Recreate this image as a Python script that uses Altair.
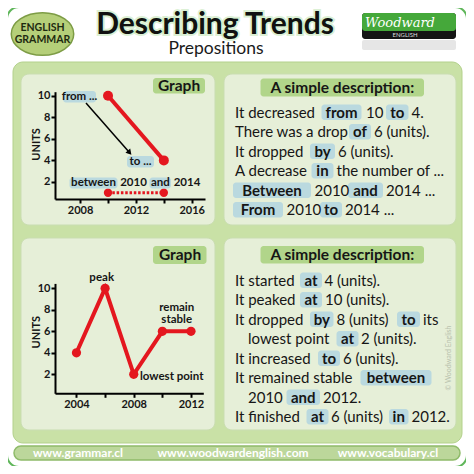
import altair as alt
import pandas as pd

# ---- data -------------------------------------------------------------
g1_years = [2010, 2014]
g1_units = [10, 4]
g1_span_years = [2010, 2014]
g1_span_units = [1, 1]
g1_ticks = [2008, 2010, 2012, 2014, 2016]

g2_years = [2004, 2006, 2008, 2010, 2012]
g2_units = [4, 10, 2, 6, 6]
g2_ticks = [2004, 2006, 2008, 2010, 2012]

unit_ticks = [2, 4, 6, 8, 10]

title = "Describing Trends"
subtitle = "Prepositions"
badge = ["ENGLISH", "GRAMMAR"]
footer = ["www.grammar.cl", "www.woodwardenglish.com", "www.vocabulary.cl"]
header = "A simple description:"
graph_label = "Graph"

# (text, is preposition)
desc_top = [
    [("It decreased", 0), ("from", 1), ("10", 0), ("to", 1), ("4.", 0)],
    [("There was a drop", 0), ("of", 1), ("6 (units).", 0)],
    [("It dropped", 0), ("by", 1), ("6 (units).", 0)],
    [("A decrease", 0), ("in", 1), ("the number of ...", 0)],
    [("Between", 1), ("2010", 0), ("and", 1), ("2014 ...", 0)],
    [("From", 1), ("2010", 0), ("to", 1), ("2014 ...", 0)],
]
desc_bottom = [
    [("It started", 0), ("at", 1), ("4 (units).", 0)],
    [("It peaked", 0), ("at", 1), ("10 (units).", 0)],
    [("It dropped", 0), ("by", 1), ("8 (units)", 0), ("to", 1), ("its", 0)],
    [("lowest point", 0), ("at", 1), ("2 (units).", 0)],
    [("It increased", 0), ("to", 1), ("6 (units).", 0)],
    [("It remained stable", 0), ("between", 1)],
    [("2010", 0), ("and", 1), ("2012.", 0)],
    [("It finished", 0), ("at", 1), ("6 (units)", 0), ("in", 1), ("2012.", 0)],
]

g1_notes = [("from ...", 1), ("to ...", 1), ("between", 1), ("2010", 0), ("and", 1), ("2014", 0)]
g2_notes = ["peak", "remain", "stable", "lowest point"]

# ---- layout (page pixels) --------------------------------------------
top_x = [
    [235, (321.5, 361.5), 366, (386, 408.5), 411.5],
    [235, (349, 371), 374],
    [235, (310, 335), 338],
    [235, (311.5, 333.5), 336.5],
    [(233, 311), 314.5, (348, 383), 386],
    [(233, 283), 286.5, (320, 342), 345],
]
top_y = [112.5, 132, 151.5, 171, 190.5, 210]
bottom_x = [
    [235, (300, 322), 324.5],
    [235, (300, 322), 325],
    [235, (310, 333.5), 336.5, (397, 420), 423],
    [248, (336.5, 358.5), 361],
    [235, (318, 340), 343],
    [235, (360.5, 431.5)],
    [248, (286.5, 320), 323],
    [235, (306.5, 328.5), 331, (389, 408.5), 411.5],
]
bottom_y = [280.5, 300, 319.5, 339, 358.5, 378, 397.5, 417]

RED = "#e4171f"
FONT = "Lato"
INK = "#161616"
HL = "#bad9df"

CX = alt.Scale(domain=[8, 466], range=[0, 458], nice=False, zero=False)
CY = alt.Scale(domain=[8, 466], range=[0, 458], nice=False, zero=False)


def boxes(rows, **style):
    df = pd.DataFrame(rows, columns=["x0", "y0", "x1", "y1"])
    return alt.Chart(df).mark_rect(**style).encode(
        x=alt.X("x0:Q", scale=CX, axis=None), x2="x1:Q",
        y=alt.Y("y0:Q", scale=CY, axis=None), y2="y1:Q")


def words(rows, **style):
    df = pd.DataFrame(rows, columns=["x", "y", "text"])
    style.setdefault("font", FONT)
    style.setdefault("color", INK)
    return alt.Chart(df).mark_text(**style).encode(
        x=alt.X("x:Q", scale=CX, axis=None),
        y=alt.Y("y:Q", scale=CY, axis=None), text="text:N")


def description(lines, xs, ys):
    plain, bold, hl = [], [], []
    for segs, pos, y in zip(lines, xs, ys):
        for (txt, prep), p in zip(segs, pos):
            if prep:
                hl.append((p[0], y - 8, p[1], y + 7.5))
                bold.append(((p[0] + p[1]) / 2, y, txt))
            else:
                plain.append((p, y, txt))
    return [
        boxes(hl, fill=HL, cornerRadius=3),
        words(plain, fontSize=15, align="left", baseline="middle"),
        words(bold, fontSize=15, fontWeight="bold", align="center", baseline="middle"),
    ]


# ---- background -------------------------------------------------------
panels = [(21, 74, 215, 225), (224, 74, 456, 225), (21, 238, 215, 430), (224, 238, 456, 430)]
tags = [(153, 78, 205, 93.5), (153, 246, 206.5, 264), (260.5, 78.5, 424, 96.5), (260.5, 246, 424, 263.5)]

ellipse = "M -1 0 A 1 0.68 0 1 0 1 0 A 1 0.68 0 1 0 -1 0 Z"

background = alt.layer(
    boxes([(7, 7, 467, 467)], fill="white", stroke="#5fb65a", strokeWidth=2, cornerRadius=12),
    boxes([(13, 62, 462, 443)], fill="#c9e1a6", stroke="#b3d18c", cornerRadius=10),
    boxes(panels, fill="#e6efd8", stroke="#c9ddb1", cornerRadius=8),
    boxes(tags, fill="#b1d58a", cornerRadius=3),
    boxes([(14, 446, 460, 460)], fill="#bcd79b", stroke="#8fbb6a", strokeWidth=1.5, cornerRadius=7),
    # badge
    alt.Chart(pd.DataFrame({"x": [42.5], "y": [34]})).mark_point(
        shape=ellipse, size=3900, filled=True, fill="#b5cf79", stroke="#7d9c45",
        strokeWidth=1.5, opacity=1).encode(
        x=alt.X("x:Q", scale=CX, axis=None), y=alt.Y("y:Q", scale=CY, axis=None)),
    words([(42.5, 27.5, badge[0]), (42.5, 39.5, badge[1])], fontSize=10.5,
          fontWeight="bold", align="center", baseline="middle", color="#1e2a10"),
    # logo
    boxes([(362, 40, 456, 50)], fill="#9a9a9a", opacity=0.25, cornerRadius=2),
    boxes([(362, 13, 456, 39)], fill="#151515", cornerRadius=3),
    boxes([(362, 13, 456, 31)], fill="#45a83a", cornerRadius=3),
    words([(400, 22.5, "Woodward")], fontSize=13, fontStyle="italic", color="white",
          align="center", baseline="middle", font="DejaVu Serif"),
    words([(405, 35, "ENGLISH")], fontSize=6, color="#dddddd", align="center",
          baseline="middle"),
    # title
    words([(215, 33.5, title)], fontSize=30, fontWeight="bold", align="center",
          baseline="alphabetic", color="#7cc86a", stroke="#8fd27a", strokeWidth=4,
          strokeOpacity=0.45, opacity=0.7),
    words([(215, 33.5, title)], fontSize=30, fontWeight="bold", align="center",
          baseline="alphabetic", color="#111111"),
    words([(216, 53.5, subtitle)], fontSize=17.5, align="center", baseline="alphabetic",
          color="#1a1a1a"),
    # tags
    words([(179, 86, graph_label), (180, 255, graph_label)], fontSize=15.5,
          fontWeight="bold", align="center", baseline="middle"),
    words([(342.3, 87.5, header), (342.3, 254.7, header)], fontSize=15.5,
          fontWeight="bold", align="center", baseline="middle"),
    words([(78, 453, footer[0]), (233, 453, footer[1]), (388, 453, footer[2])],
          fontSize=12, fontWeight="bold", color="white", align="center",
          baseline="middle"),
    words([(448.5, 358, "© Woodward English")], fontSize=7, color="#b9c2ad",
          angle=270, align="center", baseline="middle"),
    *description(desc_top, top_x, top_y),
    *description(desc_bottom, bottom_x, bottom_y),
)

# ---- graphs -----------------------------------------------------------
def axes(ticks, y_pix, title_y):
    ax_x = alt.Axis(orient="bottom", offset=y_pix - 466, values=ticks, zindex=1,
                    labelExpr="datum.value % 4 == 0 ? datum.label : ''", format="d",
                    grid=False, title=None, domainColor="black", domainWidth=2,
                    tickColor="black", tickWidth=2, tickSize=4, labelPadding=1,
                    labelFont=FONT, labelFontWeight="bold", labelFontSize=11,
                    labelColor=INK, labelFlush=False, labelOverlap=False)
    ax_y = alt.Axis(orient="left", offset=-(55 - 8), values=unit_ticks, grid=False,
                    zindex=1, title="UNITS", titleFont=FONT, titleFontSize=11,
                    titleFontWeight="bold", titleColor=INK, titleX=-19,
                    titleY=title_y - 8, titleAngle=270, titleAlign="center",
                    titleBaseline="middle", domainColor="black", domainWidth=2,
                    tickColor="black", tickWidth=2, tickSize=4, labelPadding=1,
                    labelFont=FONT, labelFontWeight="bold", labelFontSize=11,
                    labelColor=INK, labelFlush=False, labelOverlap=False)
    return ax_x, ax_y


ax1x, ax1y = axes(g1_ticks, 199, 144)
X1 = alt.Scale(domain=[2006.2, 2016.95], range=[47, 197], nice=False, zero=False)
Y1 = alt.Scale(domain=[0.42, 10.37], range=[191, 83.7], nice=False, zero=False)

g1 = pd.DataFrame({"year": g1_years, "units": g1_units})
g1s = pd.DataFrame({"year": g1_span_years, "units": g1_span_units})


def enc(chart, X, Y, ax, ay):
    return chart.encode(x=alt.X("year:Q", scale=X, axis=ax),
                        y=alt.Y("units:Q", scale=Y, axis=ay))


graph1 = alt.layer(
    enc(alt.Chart(g1).mark_line(color=RED, strokeWidth=4), X1, Y1, ax1x, ax1y),
    enc(alt.Chart(g1).mark_circle(color=RED, size=100, opacity=1), X1, Y1, ax1x, ax1y),
    enc(alt.Chart(g1s).mark_line(color=RED, strokeWidth=3, strokeDash=[2.5, 1.8]), X1, Y1, ax1x, ax1y),
    enc(alt.Chart(g1s).mark_circle(color=RED, size=70, opacity=1), X1, Y1, ax1x, ax1y),
)

ax2x, ax2y = axes(g2_ticks, 393.3, 331.7)
X2 = alt.Scale(domain=[2002.5, 2012.86], range=[47, 195.3], nice=False, zero=False)
Y2 = alt.Scale(domain=[0.23, 10.46], range=[385.3, 275.4], nice=False, zero=False)
g2 = pd.DataFrame({"year": g2_years, "units": g2_units})

graph2 = alt.layer(
    enc(alt.Chart(g2).mark_line(color=RED, strokeWidth=4), X2, Y2, ax2x, ax2y),
    enc(alt.Chart(g2).mark_circle(color=RED, size=85, opacity=1), X2, Y2, ax2x, ax2y),
)

# ---- annotations on top -----------------------------------------------
note_boxes = [(63, 91, 96, 102.5), (127, 156, 154, 167.5), (69.5, 177.5, 117.5, 188.5),
              (149.5, 177.5, 171, 188.5)]
note_xy = [(79.5, 96.8), (140.5, 161.8), (93.5, 183), (133.5, 183), (160.3, 183), (187, 183)]
g2_xy = [(101.7, 277.7), (176.7, 308), (176.7, 319.5), (171.7, 376.5)]

arrow = pd.DataFrame({"x": [86, 129], "y": [103, 152]})
foreground = alt.layer(
    boxes(note_boxes, fill=HL, cornerRadius=3),
    words([(x, y, t) for (x, y), (t, _) in zip(note_xy, g1_notes)], fontSize=11.5,
          fontWeight="bold", align="center", baseline="middle"),
    words([(x, y, t) for (x, y), t in zip(g2_xy, g2_notes)], fontSize=11.5,
          fontWeight="bold", align="center", baseline="middle"),
    alt.Chart(arrow).mark_line(color="black", strokeWidth=1.5).encode(
        x=alt.X("x:Q", scale=CX, axis=None), y=alt.Y("y:Q", scale=CY, axis=None)),
    alt.Chart(arrow.tail(1)).mark_point(shape="triangle", angle=139, size=40,
                                        filled=True, color="black", opacity=1).encode(
        x=alt.X("x:Q", scale=CX, axis=None), y=alt.Y("y:Q", scale=CY, axis=None)),
)

chart = alt.layer(background, graph1, graph2, foreground).resolve_scale(
    x="independent", y="independent"
).properties(
    width=458, height=458, padding=0, autosize="none", background="white"
).configure_view(stroke=None)

chart.save("out.html", embed_options={"renderer": "svg", "actions": False})
